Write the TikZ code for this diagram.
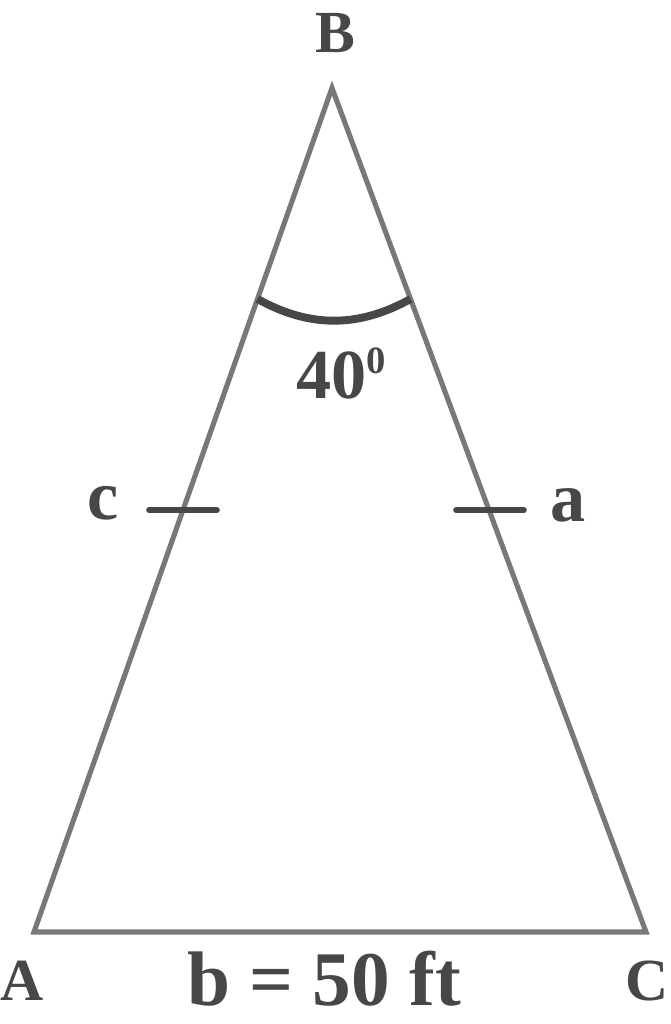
\documentclass[tikz,border=0pt]{standalone}
\usepackage{fontspec}
\setmainfont{Liberation Serif}
\usetikzlibrary{calc}
\definecolor{edgegray}{HTML}{787878}
\definecolor{markgray}{HTML}{474747}

\begin{document}
\begin{tikzpicture}[x=0.02cm, y=-0.02cm,
	side/.style={draw=edgegray, line width=2.9pt, line join=miter},
	tickmark/.style={draw=markgray, line width=3.2pt, line cap=round},
	anglearc/.style={draw=markgray, line width=4.5pt},
	vlabel/.style={text=markgray, inner sep=0pt, anchor=base, font=\fontsize{34}{34}\selectfont\bfseries},
	slabel/.style={vlabel, font=\fontsize{40}{40}\selectfont\bfseries},
	blabel/.style={vlabel, font=\fontsize{44}{44}\selectfont\bfseries}
	]
	
	\useasboundingbox (0,0) rectangle (670,1024);
	
	\coordinate (B) at (332,88);
	\coordinate (A) at (34,932);
	\coordinate (C) at (646,932);
	
	\draw [side] (A) -- (B) -- (C) -- cycle;
	
	% angle at B
	\coordinate (arcl) at ($(B)!0.25!(A)$);
	\coordinate (arcr) at ($(B)!0.25!(C)$);
	\draw [anglearc] (arcl) to[bend right=29] (arcr);
	
	% equal sides
	\coordinate (midc) at ($(B)!0.5!(A)$);
	\coordinate (mida) at ($(B)!0.5!(C)$);
	\draw [tickmark] ($(midc)+(-34,0)$) -- ($(midc)+(34,0)$);
	\draw [tickmark] ($(mida)+(-33,0)$) -- ($(mida)+(35,0)$);
	
	\node (labA) [vlabel] at (22,1000) {A};
	\node (labB) [vlabel] at (335,53) {B};
	\node (labC) [vlabel] at (647,1000) {C};
	\node (labc) [slabel] at (103,519) {c};
	\node (laba) [slabel] at (568,521) {a};
	\node (angle) [slabel] at (341,398) {40\raisebox{14pt}{\fontsize{22}{22}\selectfont 0}};
	\node (base) [blabel] at (324,1005) {b = 50 ft};
	
\end{tikzpicture}
\end{document}
